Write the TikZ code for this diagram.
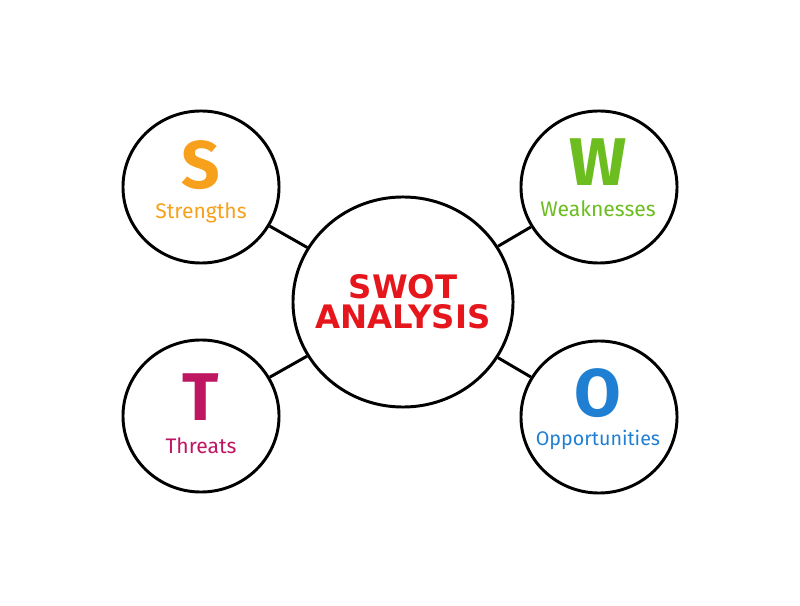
\documentclass[tikz,border=0pt]{standalone}
\usepackage{fontspec}
\setmainfont{Fira Sans}
\newfontfamily\titlefont{DejaVu Sans}
\usepackage{xcolor}
\usetikzlibrary{shapes.geometric}

\definecolor{sorange}{HTML}{F7A01C}
\definecolor{wgreen}{HTML}{6CBD1F}
\definecolor{tpink}{HTML}{BE1660}
\definecolor{oblue}{HTML}{1F7FD2}
\definecolor{swotred}{HTML}{E5161C}

\tikzset{
  ring/.style={draw, ellipse, line width=2.1pt, inner sep=0pt,
    minimum width=3.9cm, minimum height=3.8cm},
  hub/.style={draw, ellipse, line width=2.1pt, inner sep=0pt,
    minimum width=5.5cm, minimum height=5.25cm},
  letter/.style={font=\fontsize{48}{48}\selectfont\bfseries, inner sep=0pt},
  word/.style={font=\fontsize{15}{15}\selectfont, inner sep=0pt},
  title/.style={font=\fontsize{23}{23}\selectfont\titlefont\bfseries, text=swotred, inner sep=0pt}
}

\begin{document}
\begin{tikzpicture}[x=0.025cm, y=0.025cm]
            \useasboundingbox (0,0) rectangle (800,605);
            \node [hub] (hub) at (403,303) {};
            \node [ring] (s) at (201,418) {};
            \node [ring] (w) at (599,418) {};
            \node [ring] (t) at (201,189) {};
            \node [ring] (o) at (599,188) {};
            \draw [line width=2.1pt] (s) -- (hub);
            \draw [line width=2.1pt] (w) -- (hub);
            \draw [line width=2.1pt] (t) -- (hub);
            \draw [line width=2.1pt] (o) -- (hub);
            \node [letter, text=sorange] (s letter) at (201,440) {S};
            \node [word, text=sorange] (s word) at (201,392) {Strengths};
            \node [letter, text=wgreen] (w letter) at (598,443) {W};
            \node [word, text=wgreen] (w word) at (598,396) {Weaknesses};
            \node [letter, text=tpink] (t letter) at (201,208) {T};
            \node [word, text=tpink] (t word) at (201,159) {Threats};
            \node [letter, text=oblue] (o letter) at (598,212) {O};
            \node [word, text=oblue, font=\fontsize{14}{14}\selectfont] (o word) at (598,165) {Opportunities};
            \node [title] (swot) at (403,318) {SWOT};
            \node [title] (analysis) at (403,288) {ANALYSIS};
        \end{tikzpicture}
\end{document}
